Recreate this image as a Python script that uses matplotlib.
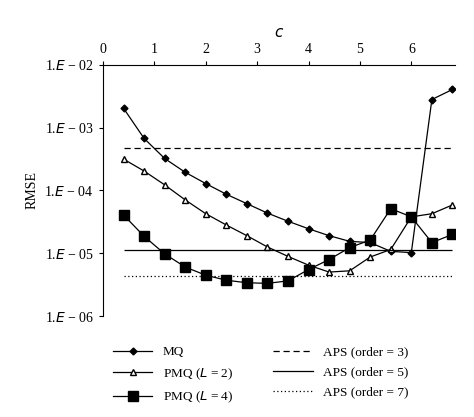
import numpy as np
import matplotlib
matplotlib.use("Agg")
import matplotlib.pyplot as plt
from matplotlib.lines import Line2D

c = np.arange(1, 18) * 0.4
mq_log = [-2.69, -3.17, -3.49, -3.71, -3.89, -4.06, -4.21, -4.36, -4.49, -4.61,
          -4.72, -4.81, -4.83, -4.97, -4.99, -2.55, -2.39]
pmq2_log = [-3.50, -3.69, -3.91, -4.15, -4.37, -4.55, -4.72, -4.90, -5.05, -5.19,
            -5.30, -5.28, -5.06, -4.94, -4.42, -4.37, -4.23]
pmq4_log = [-4.39, -4.73, -5.01, -5.22, -5.35, -5.43, -5.47, -5.48, -5.44, -5.26,
            -5.10, -4.91, -4.79, -4.29, -4.42, -4.83, -4.70]
aps_log = {"3": -3.32, "5": -4.95, "7": -5.37}

plt.rcParams["font.family"] = "Liberation Serif"
fig = plt.figure(figsize=(4.74, 4.17), dpi=100)
ax = fig.add_axes([103 / 474, 1 - 316 / 417, 352 / 474, 251 / 417])

lw = 0.9
ax.plot(c, 10 ** np.array(mq_log), "k-", marker="D", ms=3.5, lw=lw)
ax.plot(c, 10 ** np.array(pmq2_log), "k-", marker="^", ms=5, mfc="white", lw=lw)
ax.plot(c, 10 ** np.array(pmq4_log), "k-", marker="s", ms=6.5, lw=lw)
ax.hlines(10 ** aps_log["3"], c[0], c[-1], colors="k", linestyles=(0, (5, 3)), lw=lw)
ax.hlines(10 ** aps_log["5"], c[0], c[-1], colors="k", linestyles="-", lw=lw)
ax.hlines(10 ** aps_log["7"], c[0], c[-1], colors="k", linestyles=(0, (1, 2)), lw=lw)

ax.set_yscale("log")
ax.set_ylim(1e-6, 1e-2)
ax.set_xlim(0, 6.85)
ax.set_yticks([1e-2, 1e-3, 1e-4, 1e-5, 1e-6])
ax.set_yticklabels([f"1.$E$ − 0{k}" for k in [2, 3, 4, 5, 6]])
ax.minorticks_off()
ax.set_xticks(range(7))
ax.xaxis.tick_top()
ax.xaxis.set_label_position("top")
ax.set_xlabel("$c$", fontsize=11)
ax.set_ylabel("RMSE", fontsize=10)
for s in ["bottom", "right"]:
    ax.spines[s].set_visible(False)
ax.tick_params(labelsize=10, direction="out", length=3)

handles = [
    Line2D([], [], color="k", marker="D", ms=3.5, lw=lw, label="MQ"),
    Line2D([], [], color="k", marker="^", ms=5, mfc="white", lw=lw, label="PMQ ($L$ = 2)"),
    Line2D([], [], color="k", marker="s", ms=6.5, lw=lw, label="PMQ ($L$ = 4)"),
    Line2D([], [], color="k", ls=(0, (5, 3)), lw=lw, label="APS (order = 3)"),
    Line2D([], [], color="k", ls="-", lw=lw, label="APS (order = 5)"),
    Line2D([], [], color="k", ls=(0, (1, 2)), lw=lw, label="APS (order = 7)"),
]
fig.legend(handles=handles, ncol=2, frameon=False, loc="lower center",
           bbox_to_anchor=(0.55, 0.0), fontsize=9.5, handlelength=3,
           columnspacing=3, labelspacing=0.6)

fig.savefig("out.png", dpi=100)
